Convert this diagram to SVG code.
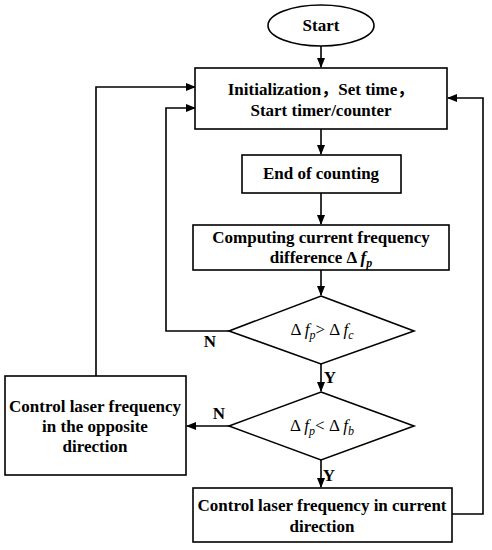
<svg xmlns="http://www.w3.org/2000/svg" width="492" height="550" viewBox="0 0 492 550">
<style>
.s{fill:#fff;stroke:#000;stroke-width:1.6}
.t{font-family:"Liberation Serif","Noto Sans CJK SC",serif;font-size:17px;font-weight:bold;text-anchor:middle;fill:#000}
.m{font-family:"Liberation Serif",serif;font-size:17px;text-anchor:middle;fill:#000}
.c{fill:none;stroke:#000;stroke-width:1.6}
</style>
<defs>
<marker id="a" markerWidth="10" markerHeight="8" refX="9" refY="4" orient="auto" markerUnits="userSpaceOnUse">
<path d="M0,0 L10,4 L0,8 Z" fill="#000"/>
</marker>
</defs>
<rect width="492" height="550" fill="#fff"/>
<g id="connectors">
<line class="c" x1="321" y1="46" x2="321" y2="67" marker-end="url(#a)"/>
<line class="c" x1="321" y1="129" x2="321" y2="154" marker-end="url(#a)"/>
<line class="c" x1="321" y1="193" x2="321" y2="224" marker-end="url(#a)"/>
<line class="c" x1="321" y1="270" x2="321" y2="295" marker-end="url(#a)"/>
<line class="c" x1="321" y1="364" x2="321" y2="391" marker-end="url(#a)"/>
<line class="c" x1="321" y1="460" x2="321" y2="487" marker-end="url(#a)"/>
<polyline class="c" points="229,331 166,331 166,108 195,108" marker-end="url(#a)"/>
<line class="c" x1="229" y1="426" x2="187" y2="426" marker-end="url(#a)"/>
<polyline class="c" points="96,376 96,87 195,87" marker-end="url(#a)"/>
<polyline class="c" points="452,514 483,514 483,98 448,98" marker-end="url(#a)"/>
<text class="t" x="210" y="347">N</text>
<text class="t" x="330" y="383">Y</text>
<text class="t" x="219" y="419">N</text>
<text class="t" x="329" y="481">Y</text>
</g>
<g id="start">
<ellipse class="s" cx="321" cy="25.5" rx="53" ry="20.5"/>
<text class="t" x="321" y="31">Start</text>
</g>
<g id="init">
<rect class="s" x="195" y="68" width="252" height="61"/>
<text class="t" x="321" y="95">Initialization，Set time，</text>
<text class="t" x="321" y="116">Start timer/counter</text>
</g>
<g id="end">
<rect class="s" x="242" y="155" width="159" height="38"/>
<text class="t" x="321" y="179">End of counting</text>
</g>
<g id="compute">
<rect class="s" x="193" y="225" width="256" height="45"/>
<text class="t" x="321" y="243">Computing current frequency</text>
<text class="t" x="321" y="263">difference Δ <tspan font-style="italic">f</tspan><tspan font-style="italic" font-size="12" dy="4">p</tspan></text>
</g>
<g id="decision1">
<polygon class="s" points="321,296 414,331 321,364 229,331"/>
<text class="m" x="322" y="335">Δ <tspan font-style="italic">f</tspan><tspan font-style="italic" font-size="12" dy="4">p</tspan><tspan dy="-4">&gt; Δ </tspan><tspan font-style="italic">f</tspan><tspan font-style="italic" font-size="12" dy="4">c</tspan></text>
</g>
<g id="decision2">
<polygon class="s" points="321,392 414,426 321,460 229,426"/>
<text class="m" x="322" y="431">Δ <tspan font-style="italic">f</tspan><tspan font-style="italic" font-size="12" dy="4">p</tspan><tspan dy="-4">&lt; Δ </tspan><tspan font-style="italic">f</tspan><tspan font-style="italic" font-size="12" dy="4">b</tspan></text>
</g>
<g id="opposite">
<rect class="s" x="5" y="376" width="181" height="99"/>
<text class="t" x="95" y="412">Control laser frequency</text>
<text class="t" x="95" y="432">in the opposite</text>
<text class="t" x="95" y="452">direction</text>
</g>
<g id="current">
<rect class="s" x="193" y="488" width="259" height="54"/>
<text class="t" x="322" y="511">Control laser frequency in current</text>
<text class="t" x="322" y="532">direction</text>
</g>
</svg>
